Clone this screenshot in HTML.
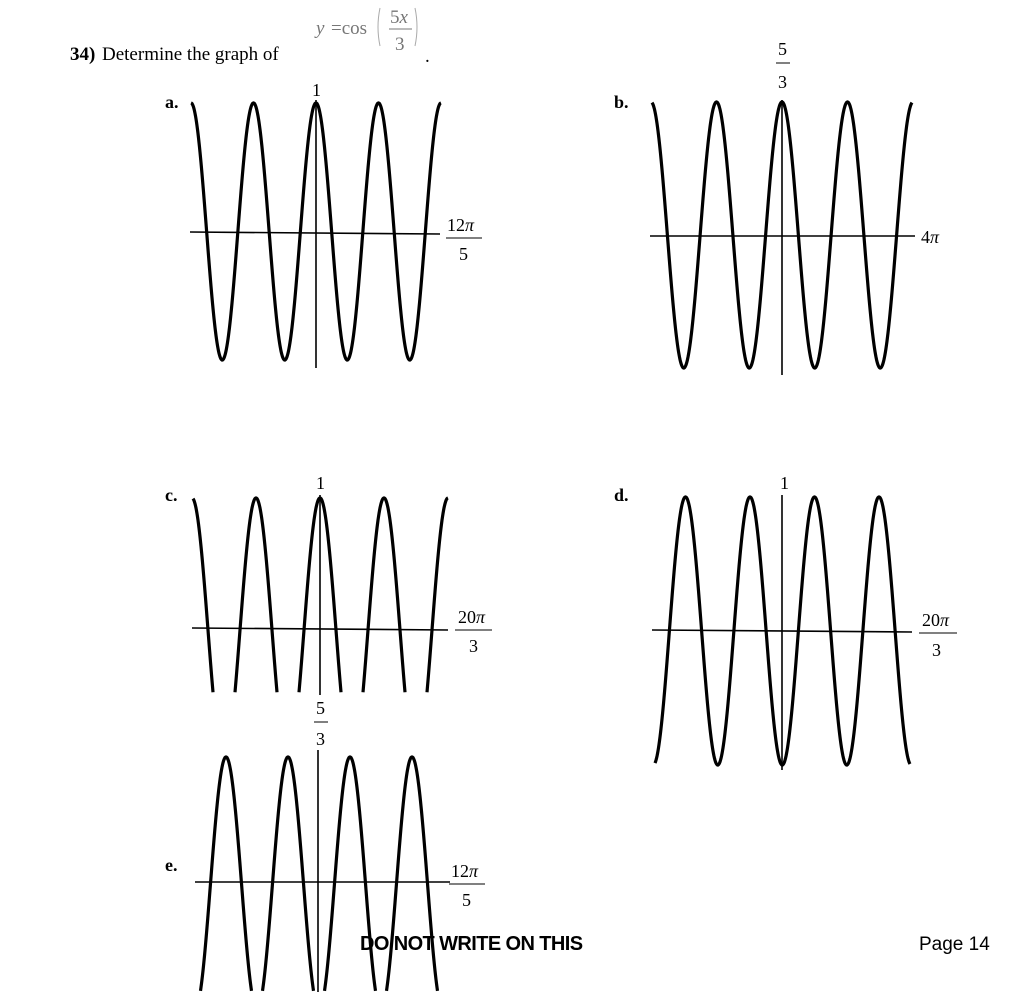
<!DOCTYPE html>
<html><head><meta charset="utf-8"><style>
html,body{margin:0;padding:0;background:#fff;}
body{width:1024px;height:992px;overflow:hidden;position:relative;font-family:"Liberation Serif",serif;}
</style></head><body>
<svg id="s" width="1024" height="992" style="position:absolute;left:0;top:0" xmlns="http://www.w3.org/2000/svg">
<g font-family="Liberation Serif, serif" fill="#000">
<text x="70" y="60" font-size="19" font-weight="bold">34)</text>
<text x="102" y="60" font-size="19">Determine the graph of</text>
<text x="316" y="34" font-size="19" fill="#777" font-style="italic">y</text>
<text x="331" y="34" font-size="19" fill="#777">=cos</text>
<path d="M380 8 Q376 27 380 46 M415 8 Q419 27 415 46" stroke="#aaa" fill="none" stroke-width="1"/>
<text x="390" y="23" font-size="19" fill="#777">5<tspan font-style="italic">x</tspan></text>
<line x1="389" y1="29" x2="412" y2="29" stroke="#777" stroke-width="1"/>
<text x="395" y="50" font-size="19" fill="#777">3</text>
<text x="425" y="62" font-size="19">.</text>

<text x="165" y="108" font-size="18" font-weight="bold">a.</text>
<text x="312" y="96" font-size="18">1</text>
<text x="447" y="231" font-size="18">12<tspan font-style="italic">π</tspan></text>
<line x1="446" y1="238" x2="482" y2="238" stroke="#000"/>
<text x="459" y="260" font-size="18">5</text>

<text x="614" y="108" font-size="18" font-weight="bold">b.</text>
<text x="778" y="55" font-size="18">5</text>
<line x1="776" y1="63" x2="790" y2="63" stroke="#000"/>
<text x="778" y="88" font-size="18">3</text>
<text x="921" y="243" font-size="18">4<tspan font-style="italic">π</tspan></text>

<text x="165" y="501" font-size="18" font-weight="bold">c.</text>
<text x="316" y="489" font-size="18">1</text>
<text x="458" y="623" font-size="18">20<tspan font-style="italic">π</tspan></text>
<line x1="455" y1="630" x2="492" y2="630" stroke="#000"/>
<text x="469" y="652" font-size="18">3</text>

<text x="614" y="501" font-size="18" font-weight="bold">d.</text>
<text x="780" y="489" font-size="18">1</text>
<text x="922" y="626" font-size="18">20<tspan font-style="italic">π</tspan></text>
<line x1="919" y1="633" x2="957" y2="633" stroke="#000"/>
<text x="932" y="656" font-size="18">3</text>

<text x="316" y="714" font-size="18">5</text>
<line x1="314" y1="722" x2="328" y2="722" stroke="#000"/>
<text x="316" y="745" font-size="18">3</text>
<text x="165" y="871" font-size="18" font-weight="bold">e.</text>
<text x="451" y="877" font-size="18">12<tspan font-style="italic">π</tspan></text>
<line x1="449" y1="884" x2="485" y2="884" stroke="#000"/>
<text x="462" y="906" font-size="18">5</text>
</g>
<g stroke="#000" stroke-width="1.6" fill="none">
<line x1="190" y1="232" x2="440" y2="234"/><line x1="316" y1="100" x2="316" y2="368"/>
<line x1="650" y1="236" x2="915" y2="236"/><line x1="782" y1="100" x2="782" y2="375"/>
<line x1="192" y1="628" x2="448" y2="630"/><line x1="320" y1="495" x2="320" y2="695"/>
<line x1="652" y1="630" x2="912" y2="632"/><line x1="782" y1="495" x2="782" y2="770"/>
<line x1="195" y1="882" x2="450" y2="882"/><line x1="318" y1="750" x2="318" y2="992"/>
</g>
<g id="curves" stroke="#000" stroke-width="3.2" fill="none"></g>
<text x="360" y="950" font-family="Liberation Sans, sans-serif" font-size="20" font-weight="bold" fill="#000" letter-spacing="-0.6">DO NOT WRITE ON THIS</text>
<text x="919" y="950" font-family="Liberation Sans, sans-serif" font-size="19" fill="#000">Page 14</text>
</svg>
<script>
function cur(x0,x1,pk,per,yt,yb,clip){
  var mid=(yt+yb)/2,a=(yb-yt)/2,d="",first=true;
  for(var x=x0;x<=x1;x+=0.5){
    var y=mid-a*Math.cos(2*Math.PI*(x-pk)/per);
    if(y>clip){first=true;continue;}
    d+=(first?"M":"L")+x.toFixed(1)+" "+y.toFixed(1)+" ";first=false;
  }
  var p=document.createElementNS("http://www.w3.org/2000/svg","path");
  p.setAttribute("d",d);document.getElementById("curves").appendChild(p);
}
cur(191,441,316,62.5,103,360,999);
cur(652,912,782,65.5,102,368,999);
cur(193,448,320,64,498,762,695);
cur(655,910,750,64.5,497,765,999);
cur(197,440,350,62,757,1010,992);
</script>
</body></html>
